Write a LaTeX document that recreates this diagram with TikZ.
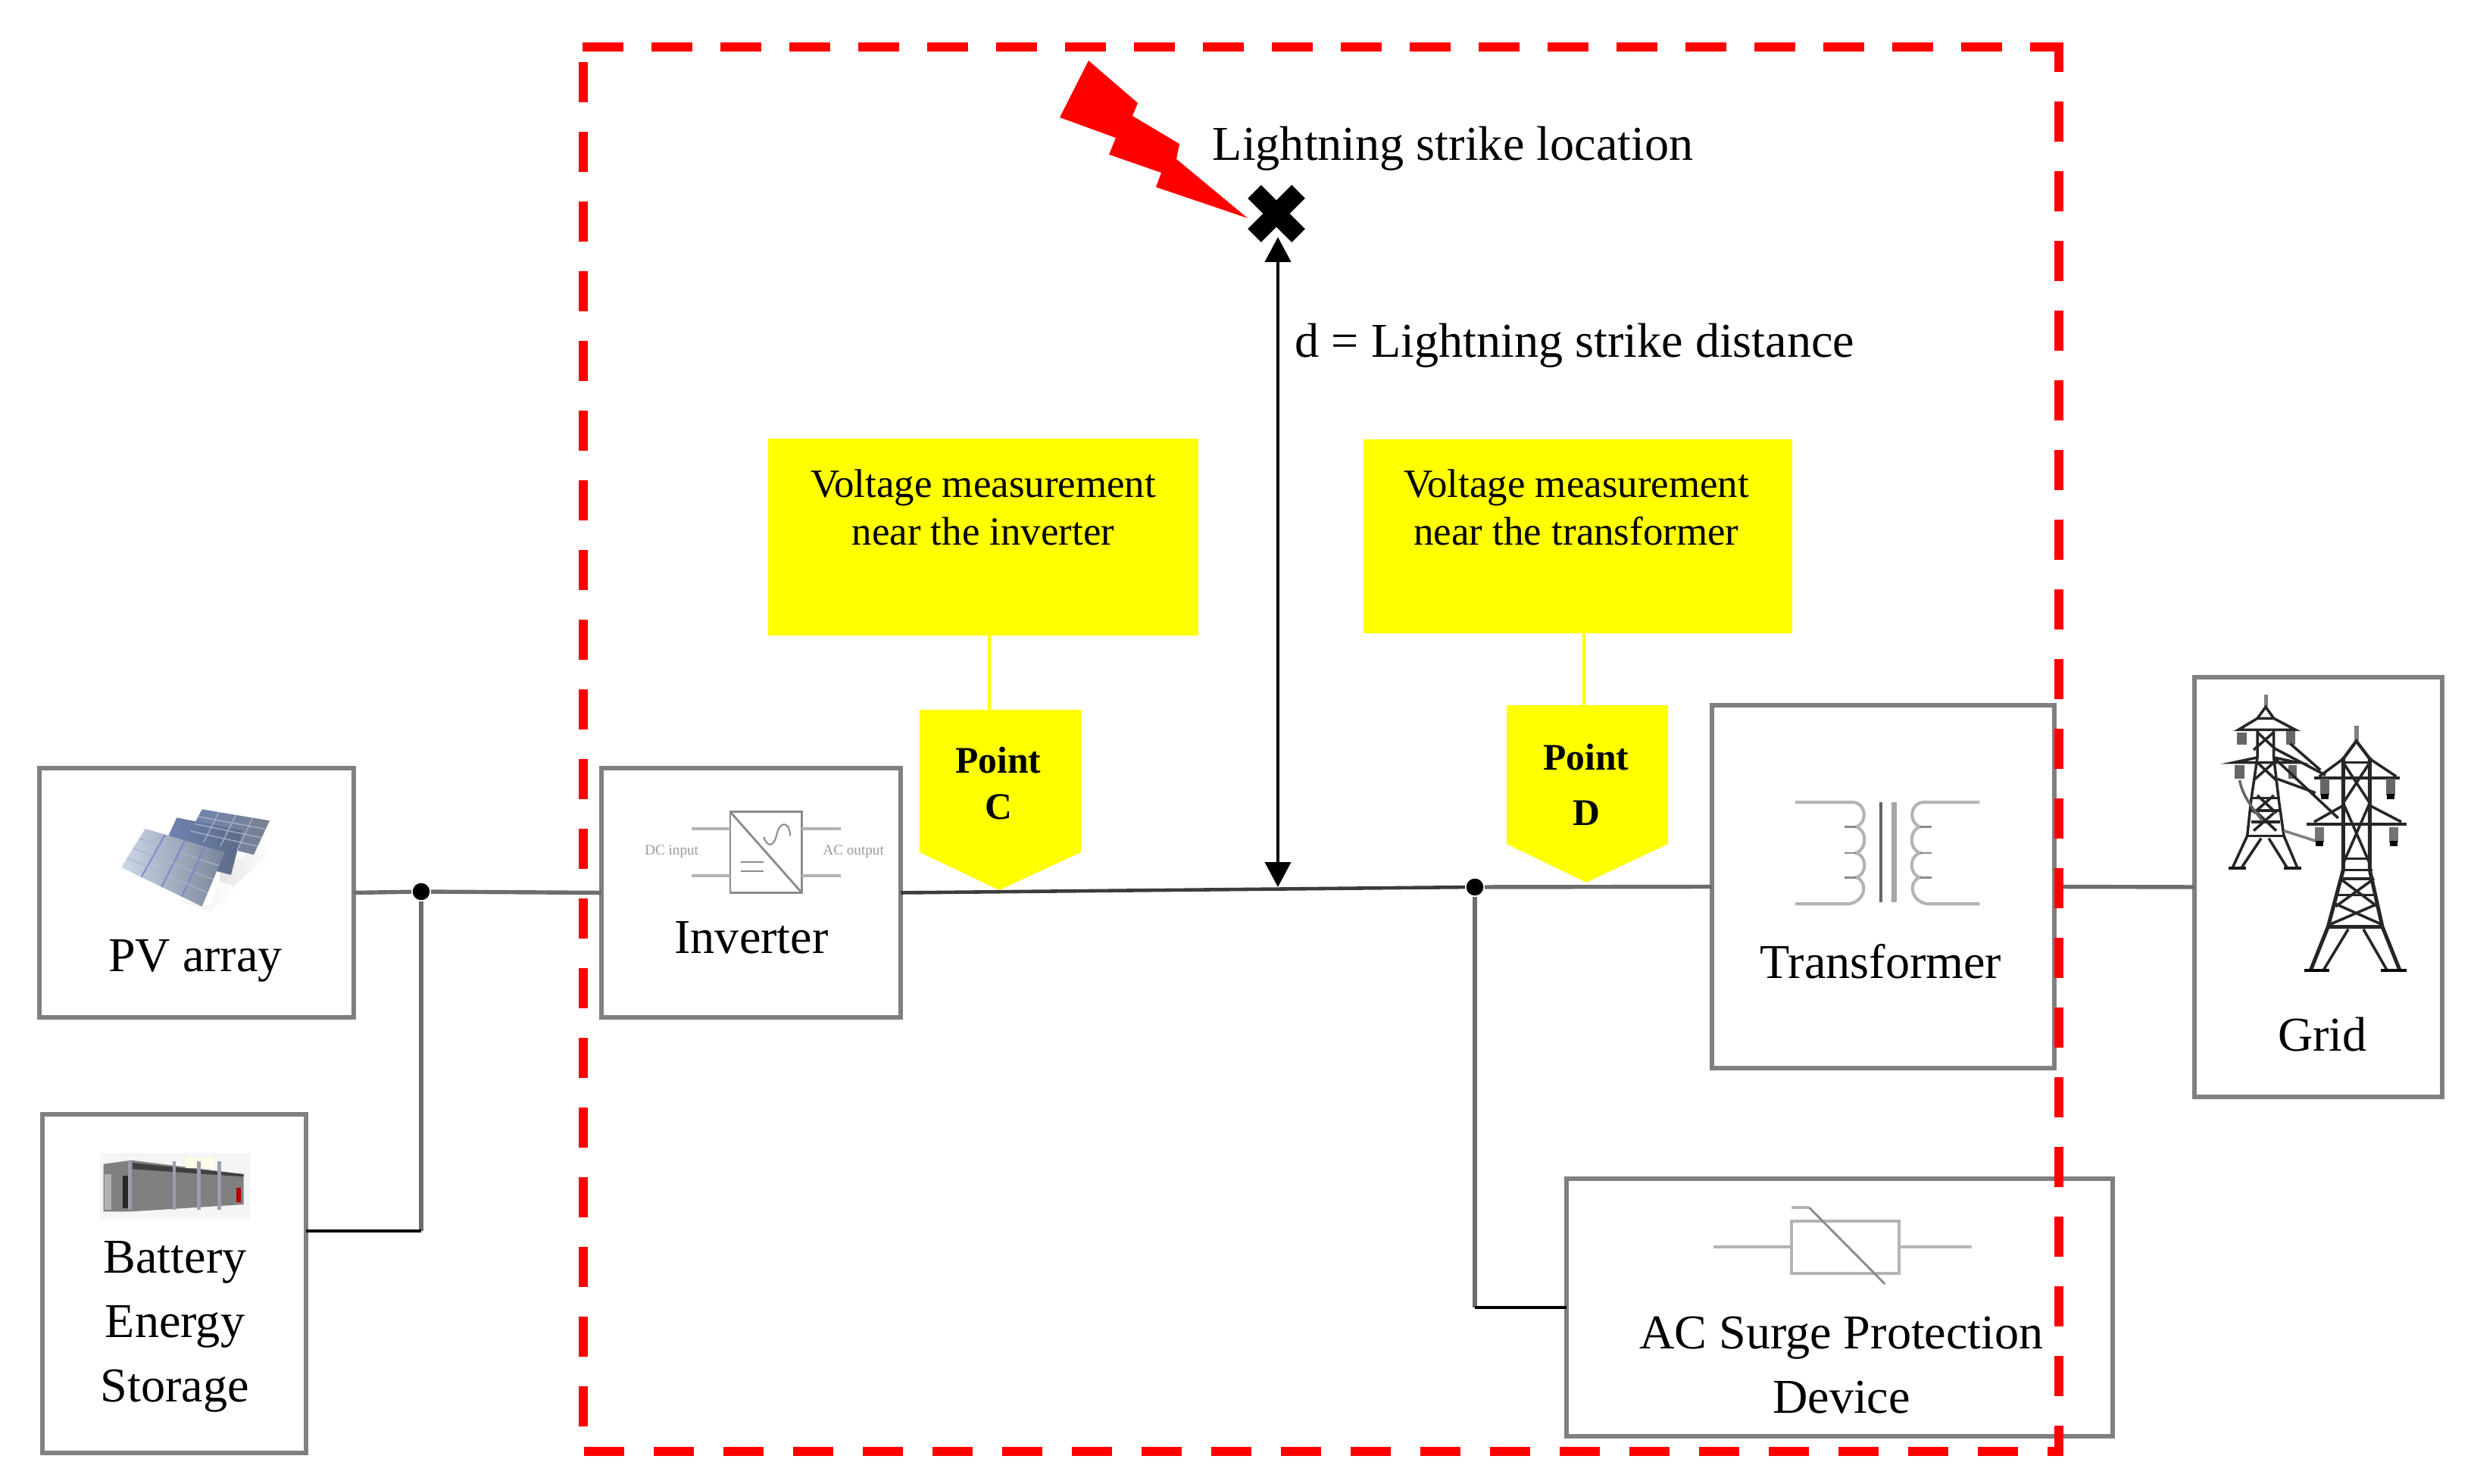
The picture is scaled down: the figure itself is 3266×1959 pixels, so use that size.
\documentclass[tikz,border=0pt]{standalone}
\usepackage{fontspec}
\setmainfont{Liberation Serif}
\usetikzlibrary{arrows.meta}

\definecolor{boxgrey}{HTML}{808080}
\definecolor{icongrey}{HTML}{B4B4B4}
\definecolor{icondark}{HTML}{8C8C8C}
\definecolor{wiredark}{HTML}{3C3C3C}
\definecolor{markyellow}{RGB}{255,255,0}
\definecolor{markred}{RGB}{255,0,0}

\tikzset{every picture/.style={line width=0.75pt}}
\tikzset{
  sysbox/.style={draw=boxgrey,line width=1.45pt,inner sep=0pt,outer sep=0pt,line join=miter},
  measbox/.style={fill=markyellow,inner sep=0pt,outer sep=0pt},
  biglabel/.style={align=center,inner sep=0pt,font=\fontsize{15.4}{20.4}\selectfont},
  measlabel/.style={align=center,inner sep=0pt,font=\fontsize{12.7}{15.2}\selectfont},
  pointlabel/.style={align=center,inner sep=0pt,font=\fontsize{11.9}{14.6}\selectfont\bfseries},
  wire/.style={draw=boxgrey!85!black,line width=1.3pt},
  wirethin/.style={draw=black,line width=0.9pt},
  junction/.style={circle,fill=black,inner sep=0pt,minimum size=5.4pt},
  iconline/.style={draw=icongrey,line width=1pt},
  iconthin/.style={draw=icondark,line width=0.7pt},
  towerline/.style={draw=black!85,line width=0.85pt},
  zoneline/.style={draw=markred,line width=2.9pt},
}

\begin{document}
\begin{tikzpicture}[x=0.24pt,y=0.24pt,yscale=-1,xscale=1]
\useasboundingbox (0,0) rectangle (3266,1959);

%Shape: system boxes
\node (pv) [sysbox,minimum width=99.6pt,minimum height=78.96pt] at (259.5,1178.5) {};
\node (batt) [sysbox,minimum width=83.52pt,minimum height=107.28pt] at (230,1694.5) {};
\node (inv) [sysbox,minimum width=94.8pt,minimum height=78.96pt] at (991.5,1178.5) {};
\node (trafo) [sysbox,minimum width=108.48pt,minimum height=114.96pt] at (2486,1170.5) {};
\node (grid) [sysbox,minimum width=78.48pt,minimum height=132.96pt] at (3060.5,1171) {};
\node (spd) [sysbox,minimum width=173.04pt,minimum height=81.6pt] at (2428.5,1726) {};

%Shape: yellow measurement boxes
\node (measc) [measbox,minimum width=136.32pt,minimum height=62.4pt] at (1298,709) {};
\node (measd) [measbox,minimum width=135.84pt,minimum height=61.44pt] at (2083,708) {};
\fill [markyellow] (1214,937) -- (1427,937) -- (1427,1125) -- (1319,1175) -- (1214,1125) -- cycle ;
\fill [markyellow] (1989,931) -- (2202,931) -- (2202,1114) -- (2094,1165) -- (1989,1114) -- cycle ;

%Straight Lines: yellow leads
\coordinate (leadc) at (1306,839);
\coordinate (leadd) at (2091,835);
\coordinate (tipc) at (1306,937);
\coordinate (tipd) at (2091,931);
\draw [markyellow,line width=1pt] (leadc) -- (tipc) ;
\draw [markyellow,line width=1pt] (leadd) -- (tipd) ;

%Straight Lines: connectors
\node (jleft) [junction] at (556,1177) {};
\node (jright) [junction] at (1947,1171) {};
\coordinate (battout) at (404,1625);
\coordinate (dbot) at (1687,1171);
\coordinate (dtop) at (1687,313);
\draw [wire] (pv.east) -- (jleft) ;
\draw [wire] (jleft) -- (inv.west) ;
\draw [wire] (jleft) -- (jleft |- battout) ;
\draw [wirethin] (battout) -- (jleft |- battout) ;
\draw [wiredark,line width=1.1pt] (inv.east) -- (jright) ;
\draw [wire] (jright) -- (trafo.west) ;
\draw [wire] (jright) -- (jright |- spd.west) ;
\draw [wirethin] (spd.west) -- (jright |- spd.west) ;
\draw [wire] (trafo.east) -- (grid.west) ;
\draw [{Triangle[length=7.9pt,width=8.2pt]}-{Triangle[length=7.9pt,width=8.2pt]},line width=0.85pt] (dtop) -- (dbot) ;

%Shape: PV panels
\begin{scope}[shift={(130,1040)},xscale=0.3333,yscale=0.3333]
\shade [left color=black!10,right color=white] (480,320) -- (690,210) -- (690,250) -- (480,440) -- cycle ;
\shade [left color=black!7,right color=white] (300,440) -- (440,470) -- (480,370) -- (560,400) -- (440,490) -- cycle ;
\shade [left color={rgb,255:red,112;green,134;blue,176},right color={rgb,255:red,120;green,128;blue,144}] (410,85) -- (678,130) -- (615,265) -- (350,200) -- cycle ;
\shade [left color={rgb,255:red,112;green,134;blue,180},right color={rgb,255:red,92;green,106;blue,134}] (310,118) -- (570,170) -- (525,345) -- (240,270) -- cycle ;
\shade [left color={rgb,255:red,205;green,216;blue,232},right color={rgb,255:red,120;green,132;blue,152}] (185,162) -- (500,255) -- (410,470) -- (90,315) -- cycle ;
\foreach \t in {0.25,0.5,0.75} {
  \draw [blue!40!gray!70,line width=0.45pt] (185+315*\t,162+93*\t) -- (90+320*\t,315+155*\t) ;
  \draw [blue!25!gray!50,line width=0.3pt] (185-95*\t,162+153*\t) -- (500-90*\t,255+215*\t) ;
  \draw [blue!25!gray!50,line width=0.3pt] (410-60*\t,85+115*\t) -- (678-63*\t,130+135*\t) ;
  \draw [blue!25!gray!50,line width=0.3pt] (410+268*\t,85+45*\t) -- (350+265*\t,200+65*\t) ;
}
\end{scope}

%Shape: battery container
\begin{scope}[shift={(110,1500)},xscale=0.3333,yscale=0.3333]
\fill [black!4] (65,65) rectangle (660,330) ;
\fill [black!50] (80,110) -- (190,95) -- (635,150) -- (635,270) -- (190,298) -- (80,298) -- cycle ;
\fill [black!8!yellow!10!white] (405,85) rectangle (515,125) ;
\fill [black!75] (195,105) -- (635,150) -- (635,160) -- (195,130) -- cycle ;
\fill [black!85] (155,155) rectangle (180,285) ;
\fill [black!30] (85,150) rectangle (110,290) ;
\foreach \x in {185,360,458,538} {
  \fill [blue!10!gray!70] (\x-7,100) rectangle (\x+7,290) ;
}
\fill [red!70!black] (605,205) rectangle (625,262) ;
\end{scope}

%Shape: inverter icon
\begin{scope}[shift={(780,980)},xscale=0.3333,yscale=0.3333]
\draw [iconthin] (552,275) rectangle (835,595) ;
\draw [iconthin] (552,275) -- (835,595) ;
\draw [iconline] (400,343) -- (552,343) ;
\draw [iconline] (400,527) -- (552,527) ;
\draw [iconline] (835,343) -- (990,343) ;
\draw [iconline] (835,527) -- (990,527) ;
\draw [iconthin,line width=0.5pt] (685,375) .. controls (700,420) and (725,410) .. (735,370) .. controls (745,315) and (785,305) .. (790,370) ;
\draw [iconthin,line width=0.5pt] (595,475) -- (685,475) ;
\draw [iconthin,line width=0.5pt] (595,510) -- (685,510) ;
\node (dcin) [text=black!40,inner sep=0pt,font=\fontsize{4.6}{5}\selectfont] at (320,432) {DC input};
\node (acout) [text=black!40,inner sep=0pt,font=\fontsize{4.6}{5}\selectfont] at (1040,432) {AC output};
\end{scope}

%Shape: transformer icon
\begin{scope}[shift={(2340,1030)},xscale=0.3333,yscale=0.3333]
\draw [iconline] (90,87) -- (320,87) .. controls (375,95) and (375,170) .. (330,185) .. controls (375,195) and (375,275) .. (330,288) .. controls (375,298) and (375,375) .. (330,385) .. controls (375,395) and (375,480) .. (300,490) -- (90,490) ;
\draw [iconline] (820,87) -- (595,87) .. controls (540,95) and (540,170) .. (585,185) .. controls (540,195) and (540,275) .. (585,288) .. controls (540,298) and (540,375) .. (585,385) .. controls (540,395) and (540,480) .. (615,490) -- (820,490) ;
\foreach \y in {185,288,385} {
  \draw [iconthin] (285,\y) -- (330,\y) ;
  \draw [iconthin] (585,\y) -- (630,\y) ;
}
\draw [black!60,line width=0.95pt] (430,87) -- (430,482) ;
\draw [black!35,line width=1.7pt] (482,87) -- (482,482) ;
\end{scope}

%Shape: surge protection icon
\begin{scope}[shift={(2240,1570)},xscale=0.3333,yscale=0.3333]
\draw [iconline] (375,125) rectangle (800,333) ;
\draw [iconline] (65,228) -- (375,228) ;
\draw [iconline] (800,228) -- (1090,228) ;
\draw [iconline] (375,72) -- (445,72) ;
\draw [iconthin] (445,72) -- (745,375) ;
\end{scope}

%Shape: small pylon
\begin{scope}[shift={(2930,900)},xscale=0.3333,yscale=0.3333]
\draw [towerline,black!50,line width=1.2pt] (183,50) -- (183,100) ;
\draw [towerline] (150,145) -- (183,100) -- (215,145) ;
\draw [towerline] (150,145) -- (75,190) -- (300,190) -- (215,145) -- cycle ;
\draw [towerline] (150,190) -- (150,300) -- (125,470) -- (110,610) -- (50,740) ;
\draw [towerline] (215,190) -- (215,300) -- (235,470) -- (255,610) -- (310,740) ;
\draw [towerline] (150,300) -- (55,320) -- (310,320) -- (215,300) ;
\draw [towerline] (165,620) -- (85,740) ;
\draw [towerline] (195,620) -- (270,740) ;
\draw [towerline] (110,610) -- (255,610) ;
\foreach \y in {200,320,450,520} {
  \draw [towerline] (150,\y) -- (225,\y+70) ;
  \draw [towerline] (215,\y) -- (135,\y+70) ;
}
\foreach \y in {460,510,555} {
  \draw [towerline] (125,\y) -- (240,\y) ;
}
\fill [black!60] (70,200) rectangle (108,250) ;
\fill [black!60] (265,195) rectangle (300,250) ;
\fill [black!60] (60,330) rectangle (98,385) ;
\fill [black!60] (272,330) rectangle (305,385) ;
\fill [black!90] (35,732) rectangle (105,745) ;
\fill [black!90] (255,732) rectangle (325,745) ;
\draw [towerline] (280,245) -- (400,350) ;
\draw [towerline] (220,265) -- (420,370) ;
\draw [towerline] (215,300) -- (470,540) ;
\draw [towerline] (230,385) -- (380,440) ;
\draw [towerline,black!50] (255,590) -- (380,630) ;
\draw [towerline,black!60] (80,390) .. controls (90,450) and (130,500) .. (170,550) ;

%Shape: large pylon
\draw [towerline,black!50,line width=1.4pt] (542,175) -- (542,235) ;
\draw [towerline,line width=1pt] (490,305) -- (542,235) -- (595,305) ;
\draw [towerline,line width=1.2pt] (490,300) -- (490,745) -- (430,970) -- (360,1145) ;
\draw [towerline,line width=1.2pt] (595,300) -- (595,745) -- (645,970) -- (715,1145) ;
\draw [towerline,line width=1.1pt] (430,970) -- (645,970) ;
\draw [towerline] (510,980) -- (410,1145) ;
\draw [towerline] (570,980) -- (665,1145) ;
\draw [towerline,line width=1pt] (375,380) -- (715,380) ;
\draw [towerline] (490,305) -- (395,375) ;
\draw [towerline] (595,305) -- (700,375) ;
\draw [towerline,line width=1pt] (345,563) -- (740,563) ;
\draw [towerline] (490,490) -- (375,555) ;
\draw [towerline] (595,490) -- (720,555) ;
\draw [towerline] (490,320) -- (595,480) ;
\draw [towerline] (595,320) -- (490,480) ;
\draw [towerline] (490,480) -- (595,720) ;
\draw [towerline] (595,480) -- (490,720) ;
\foreach \y/\a/\b in {320/490/595,700/490/595,745/482/605,780/478/612,845/465/625} {
  \draw [towerline] (\a,\y) -- (\b,\y) ;
}
\draw [towerline] (478,780) -- (625,890) ;
\draw [towerline] (612,780) -- (460,890) ;
\draw [towerline] (460,880) -- (640,960) ;
\draw [towerline] (625,880) -- (440,960) ;
\fill [black!60] (400,385) rectangle (435,450) ;
\fill [black!60] (660,385) rectangle (695,450) ;
\fill [black!55] (378,575) rectangle (415,635) ;
\fill [black!55] (672,575) rectangle (707,635) ;
\fill [black] (402,445) rectangle (432,465) ;
\fill [black] (662,445) rectangle (692,465) ;
\fill [black] (382,630) rectangle (412,650) ;
\fill [black] (675,630) rectangle (705,650) ;
\fill [black] (335,1138) rectangle (435,1150) ;
\fill [black] (640,1138) rectangle (740,1150) ;
\end{scope}

%Shape: study area
\draw [zoneline,dash pattern=on 12.96pt off 8.88pt] (769,62) -- (2724,62) ;
\draw [zoneline,dash pattern=on 12.72pt off 9.36pt,dash phase=4.32pt] (2718,60) -- (2718,1922) ;
\draw [zoneline,dash pattern=on 12.72pt off 9.36pt] (771,1916) -- (2724,1916) ;
\draw [zoneline,dash pattern=on 12.72pt off 9.36pt,dash phase=17.28pt] (770,62) -- (770,1916) ;

%Shape: lightning bolt
\fill [markred] (1437,80) -- (1502,136) -- (1495,153) -- (1557,190) -- (1553,210) -- (1647,288) -- (1526,247) -- (1533,228) -- (1464,204) -- (1473,182) -- (1399,155) -- cycle ;
%Shape: strike mark
\coordinate (strike) at (1685,282);
\draw [black,line width=6pt] (1656,253) -- (1714,311) ;
\draw [black,line width=6pt] (1714,253) -- (1656,311) ;

% Text Node
\node (pvtext) [biglabel] at (258,1268) {PV array};
% Text Node
\node (batttext) [biglabel] at (231,1751) {Battery\\Energy\\Storage};
% Text Node
\node (invtext) [biglabel] at (992,1238) {Inverter};
% Text Node
\node (trafotext) [biglabel] at (2483,1269) {Transformer};
% Text Node
\node (gridtext) [biglabel] at (3066,1366) {Grid};
% Text Node
\node (spdtext) [biglabel] at (2431,1802) {AC Surge Protection\\Device};
% Text Node
\node (striketext) [biglabel] at (1918,196) {Lightning strike location};
% Text Node
\node (disttext) [biglabel] at (2079,456) {d = Lightning strike distance};
% Text Node
\node (measctext) [measlabel] at (1298,670) {Voltage measurement\\near the inverter};
% Text Node
\node (measdtext) [measlabel] at (2081,670) {Voltage measurement\\near the transformer};
% Text Node
\node (pointctext) [pointlabel] at (1318,1034) {Point\\C};
% Text Node
\node (pointdtext) [pointlabel,font=\fontsize{11.9}{17.5}\selectfont\bfseries] at (2094,1036) {Point\\D};

\end{tikzpicture}
\end{document}
